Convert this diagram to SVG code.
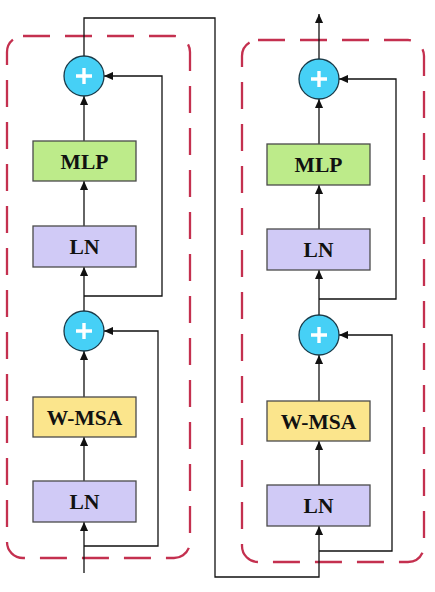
<svg xmlns="http://www.w3.org/2000/svg" width="435" height="592" viewBox="0 0 435 592">
<style>
.grp{fill:none;stroke:#c4304f;stroke-width:2.3;stroke-dasharray:27 15}
.box{stroke:#4a4a4a;stroke-width:1.3}
.mlp{fill:#bdeb8a}.ln{fill:#d0caf6}.msa{fill:#fbe58c}
.add{fill:#46d0f6;stroke:#1a3a48;stroke-width:1.3}
.plus{stroke:#ffffff;stroke-width:3.4;fill:none}
.lbl{font-family:"Liberation Serif","Times New Roman",serif;font-weight:bold;font-size:21.5px;text-anchor:middle;fill:#111}
.wire{fill:none;stroke:#111;stroke-width:1.3}
</style>
<defs>
<marker id="ah" viewBox="0 0 10 10" refX="10" refY="5" markerWidth="9" markerHeight="9" markerUnits="userSpaceOnUse" orient="auto">
<path d="M0,0.5 L10,5 L0,9.5 z" fill="#111"/>
</marker>
</defs>
<rect class="grp" x="7" y="36" width="183" height="522" rx="16"/>
<rect class="grp" x="242" y="40" width="182" height="522" rx="16"/>
<g id="connectors">
<path class="wire" d="M84,573 L84,522" marker-end="url(#ah)"/>
<path class="wire" d="M84,481 L84,437" marker-end="url(#ah)"/>
<path class="wire" d="M84,397 L84,351" marker-end="url(#ah)"/>
<path class="wire" d="M84,311 L84,267" marker-end="url(#ah)"/>
<path class="wire" d="M84,226 L84,181" marker-end="url(#ah)"/>
<path class="wire" d="M84,141 L84,96" marker-end="url(#ah)"/>
<path class="wire" d="M84,546 L158,546 L158,331 L104,331" marker-end="url(#ah)"/>
<path class="wire" d="M84,296 L162,296 L162,76 L104,76" marker-end="url(#ah)"/>
<path class="wire" d="M84,56 L84,18 L215,18 L215,577 L319,577 L319,526" marker-end="url(#ah)"/>
<path class="wire" d="M319,485 L319,441" marker-end="url(#ah)"/>
<path class="wire" d="M319,401 L319,355" marker-end="url(#ah)"/>
<path class="wire" d="M319,315 L319,270" marker-end="url(#ah)"/>
<path class="wire" d="M319,229 L319,185" marker-end="url(#ah)"/>
<path class="wire" d="M319,144 L319,99" marker-end="url(#ah)"/>
<path class="wire" d="M319,551 L392,551 L392,335 L339,335" marker-end="url(#ah)"/>
<path class="wire" d="M319,299 L396,299 L396,79 L339,79" marker-end="url(#ah)"/>
<path class="wire" d="M319,59 L319,14" marker-end="url(#ah)"/>
</g>
<g id="add1"><circle class="add" cx="84" cy="76" r="20"/><path class="plus" d="M76,76 H92 M84,68 V84"/></g>
<g id="mlp1"><rect class="box mlp" x="33" y="141" width="103" height="40"/><text class="lbl" x="84.5" y="168.5">MLP</text></g>
<g id="ln1b"><rect class="box ln" x="33" y="226" width="103" height="41"/><text class="lbl" x="84.5" y="254">LN</text></g>
<g id="add1b"><circle class="add" cx="84" cy="331" r="20"/><path class="plus" d="M76,331 H92 M84,323 V339"/></g>
<g id="msa1"><rect class="box msa" x="33" y="397" width="103" height="40"/><text class="lbl" x="84.5" y="424.5">W-MSA</text></g>
<g id="ln1a"><rect class="box ln" x="33" y="481" width="103" height="41"/><text class="lbl" x="84.5" y="509">LN</text></g>
<g id="add2"><circle class="add" cx="319" cy="79" r="20"/><path class="plus" d="M311,79 H327 M319,71 V87"/></g>
<g id="mlp2"><rect class="box mlp" x="267" y="144" width="103" height="41"/><text class="lbl" x="318.5" y="172">MLP</text></g>
<g id="ln2b"><rect class="box ln" x="267" y="229" width="103" height="41"/><text class="lbl" x="318.5" y="257">LN</text></g>
<g id="add2b"><circle class="add" cx="319" cy="335" r="20"/><path class="plus" d="M311,335 H327 M319,327 V343"/></g>
<g id="msa2"><rect class="box msa" x="267" y="401" width="103" height="40"/><text class="lbl" x="318.5" y="428.5">W-MSA</text></g>
<g id="ln2a"><rect class="box ln" x="267" y="485" width="103" height="41"/><text class="lbl" x="318.5" y="513">LN</text></g>
</svg>
